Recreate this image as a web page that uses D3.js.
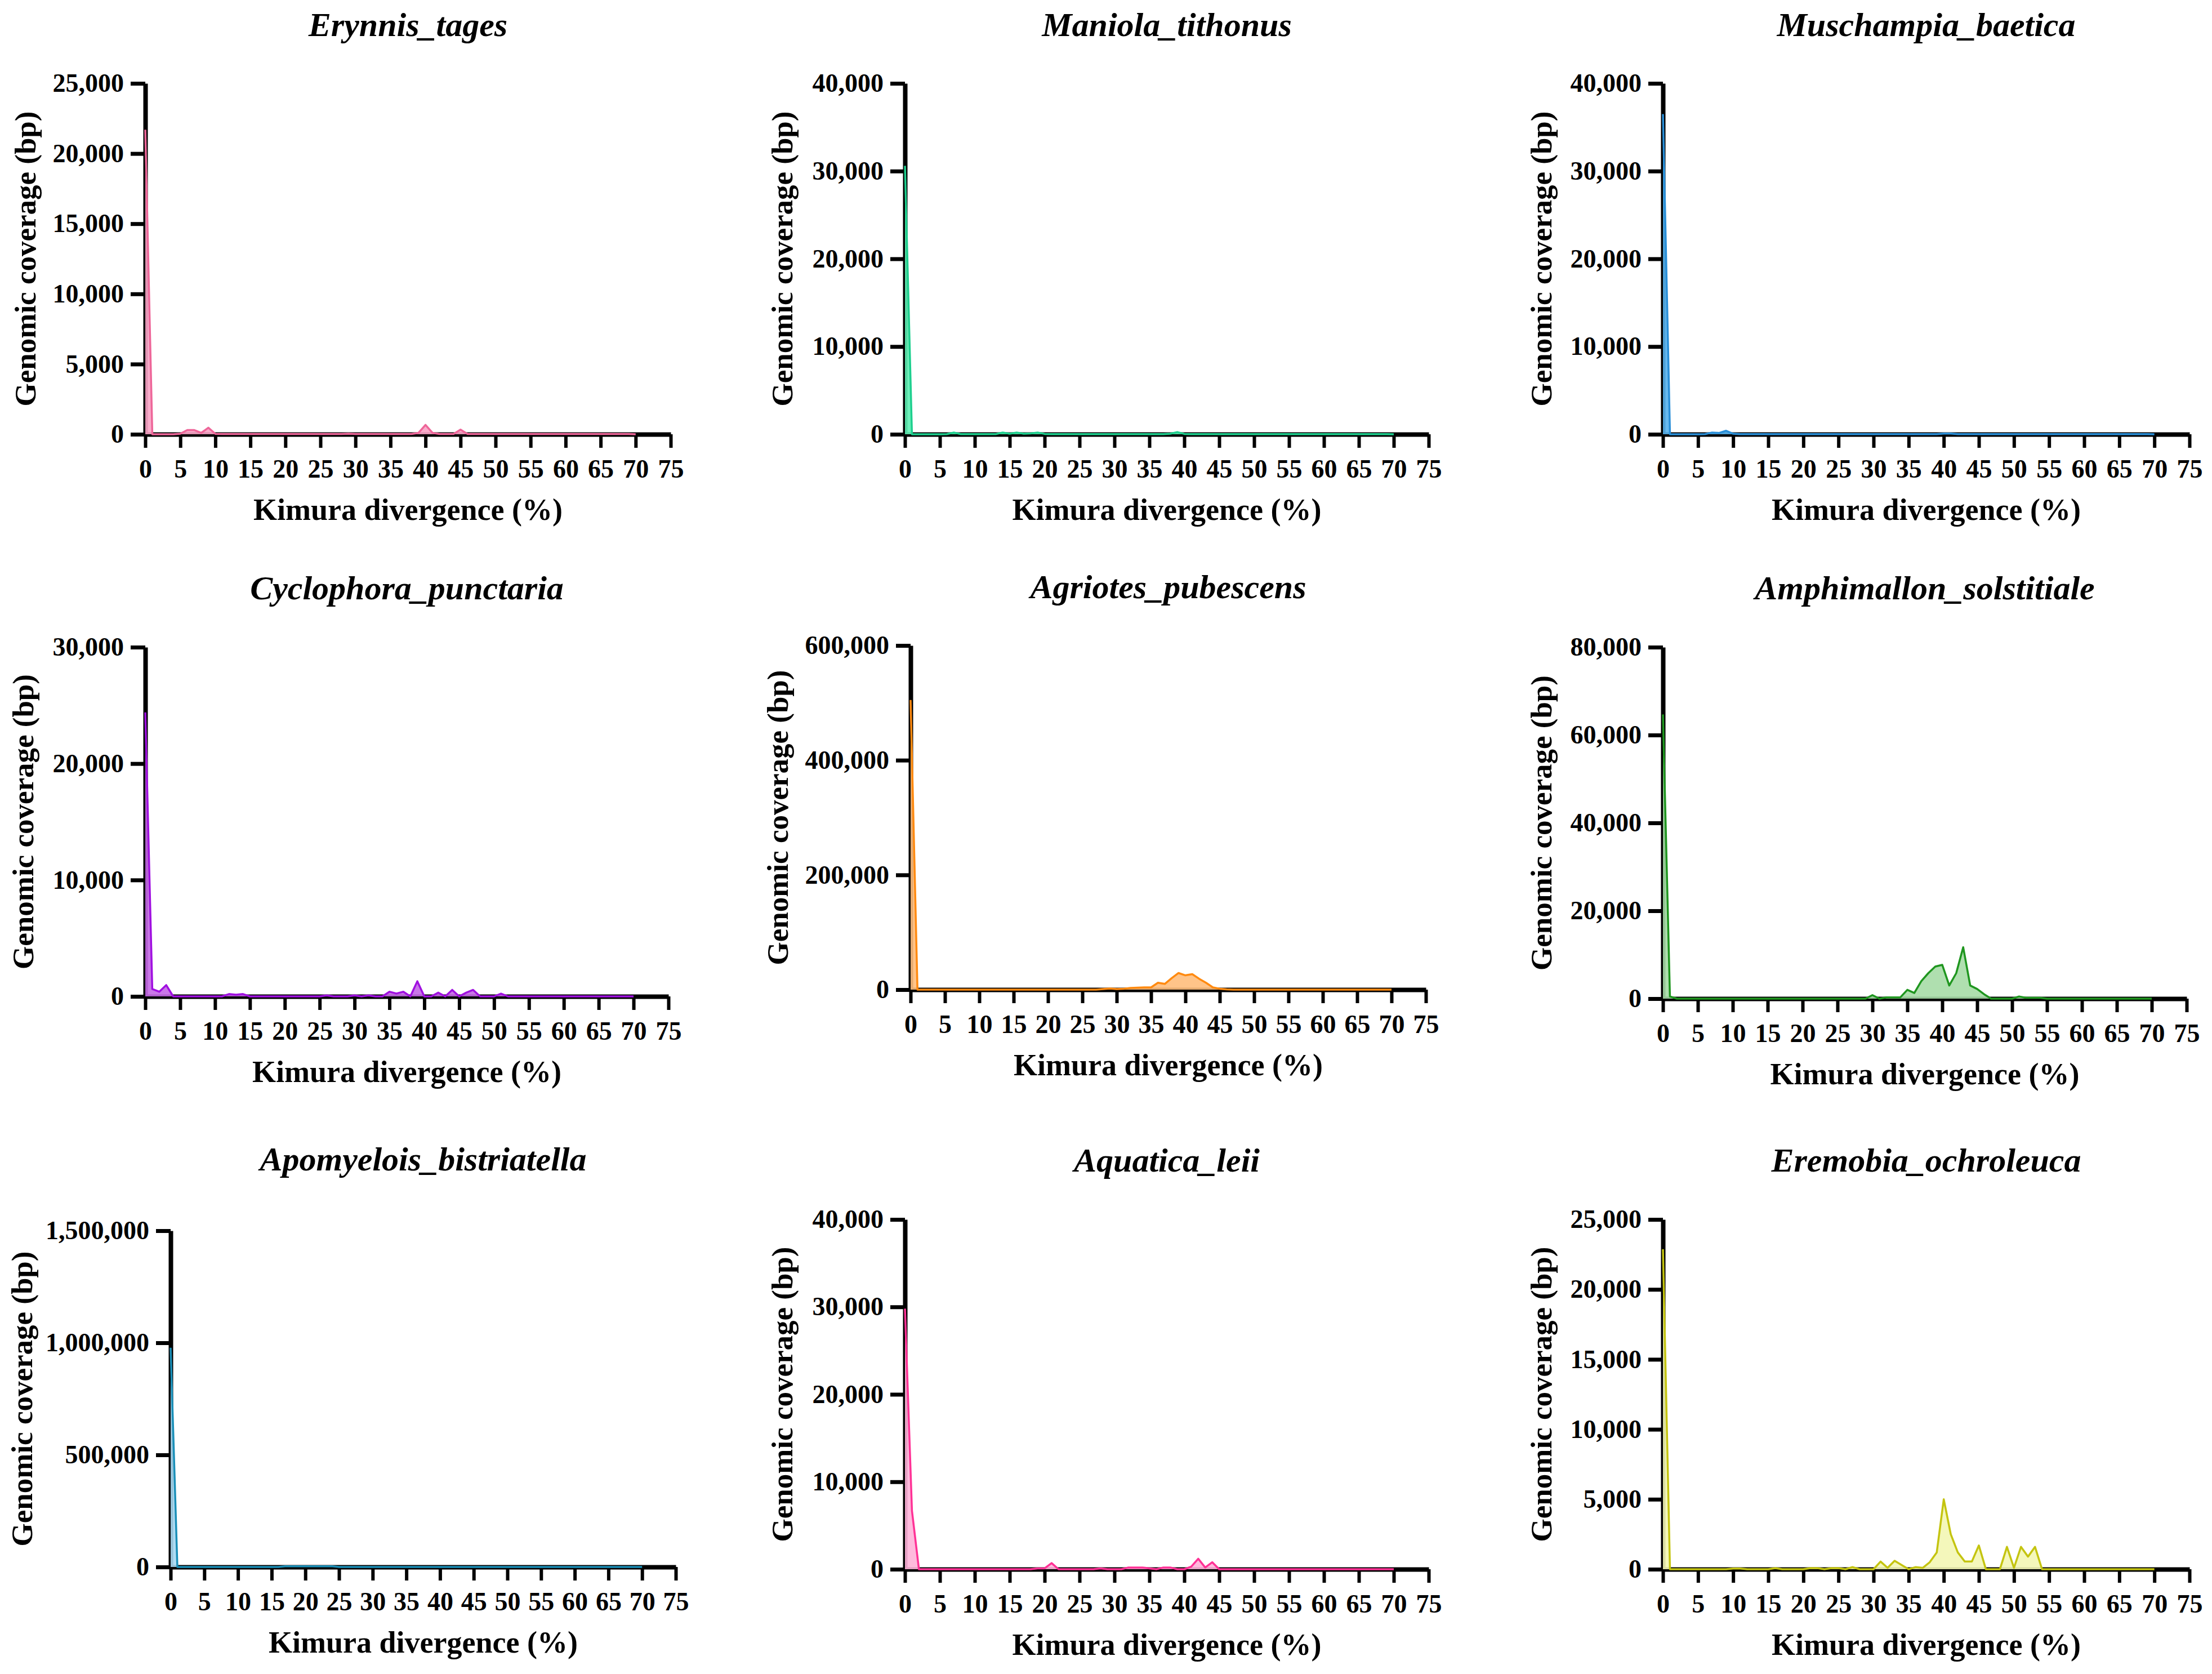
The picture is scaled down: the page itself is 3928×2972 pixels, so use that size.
<!DOCTYPE html>
<html>
<head>
<meta charset="utf-8">
<script src="https://cdn.jsdelivr.net/npm/d3@7"></script>
<style>
  body { margin: 0; background: #fff; }
  text { font-family: "Liberation Serif", "Times New Roman", serif; font-weight: bold; fill: #000; }
</style>
</head>
<body>
<div id="container"></div>
<script>
// kimura divergence bins (%)
let divergence = [0, 1, 2, 3, 4, 5, 6, 7, 8, 9, 10, 11, 12, 13, 14, 15, 16, 17, 18, 19,
  20, 21, 22, 23, 24, 25, 26, 27, 28, 29, 30, 31, 32, 33, 34, 35, 36, 37, 38, 39,
  40, 41, 42, 43, 44, 45, 46, 47, 48, 49, 50, 51, 52, 53, 54, 55, 56, 57, 58, 59,
  60, 61, 62, 63, 64, 65, 66, 67, 68, 69, 70];

let species = ["Erynnis_tages", "Maniola_tithonus", "Muschampia_baetica",
  "Cyclophora_punctaria", "Agriotes_pubescens", "Amphimallon_solstitiale",
  "Apomyelois_bistriatella", "Aquatica_leii", "Eremobia_ochroleuca"];

// genomic coverage (bp) per bin, one list per species
let erynnis = [21700, 0, 0, 0, 0, 40, 300, 300, 100, 470,
  30, 20, 20, 20, 20, 20, 20, 20, 20, 20,
  20, 20, 20, 20, 20, 20, 20, 20, 20, 40,
  20, 20, 20, 20, 20, 20, 20, 20, 20, 100,
  670, 100, 20, 20, 20, 330, 20, 20, 20, 20,
  20, 20, 20, 20, 20, 20, 20, 20, 20, 20,
  20, 20, 20, 20, 20, 20, 20, 20, 20, 20, 0];
let maniola = [30600, 0, 0, 0, 0, 0, 20, 200, 20, 20,
  20, 20, 20, 20, 200, 60, 200, 60, 100, 200,
  40, 20, 20, 20, 20, 20, 20, 20, 20, 20,
  20, 20, 20, 20, 20, 20, 20, 20, 60, 250,
  40, 20, 20, 20, 20, 20, 20, 20, 20, 20,
  20, 20, 20, 20, 20, 20, 20, 20, 20, 20,
  20, 20, 20, 20, 20, 20, 20, 20, 20, 20, 0];
let muschampia = [36500, 0, 0, 0, 0, 0, 20, 200, 150, 400,
  60, 20, 20, 20, 20, 20, 20, 20, 20, 20,
  20, 20, 20, 20, 20, 20, 20, 20, 20, 20,
  20, 20, 20, 20, 20, 20, 20, 20, 20, 20,
  80, 80, 20, 20, 20, 20, 20, 20, 20, 20,
  20, 20, 20, 20, 20, 20, 20, 20, 20, 20,
  20, 20, 20, 20, 20, 20, 20, 20, 20, 20, 0];
let cyclophora = [24400, 630, 400, 970, 0, 0, 0, 0, 0, 0,
  0, 0, 200, 150, 200, 0, 0, 0, 0, 0,
  0, 0, 0, 0, 0, 0, 80, 0, 0, 0,
  80, 0, 80, 0, 0, 400, 250, 400, 0, 1300,
  0, 0, 320, 0, 560, 0, 320, 560, 0, 0,
  0, 240, 0, 0, 0, 0, 0, 0, 0, 0,
  0, 0, 0, 0, 0, 0, 0, 0, 0, 0, 0];
let agriotes = [505000, 0, 0, 0, 0, 0, 0, 0, 0, 0,
  0, 0, 0, 0, 0, 0, 0, 0, 0, 0,
  0, 0, 0, 0, 0, 0, 0, 0, 1000, 2000,
  1000, 1500, 3000, 3500, 4000, 4000, 12000, 10000, 20000, 29000,
  25000, 27000, 19000, 12000, 4000, 1500, 500, 0, 0, 0,
  0, 0, 0, 0, 0, 0, 0, 0, 0, 0,
  0, 0, 0, 0, 0, 0, 0, 0, 0, 0, 0];
let amphimallon = [64700, 500, 0, 0, 0, 0, 0, 0, 0, 0,
  0, 0, 0, 0, 0, 0, 0, 0, 0, 0,
  0, 0, 0, 0, 0, 0, 0, 0, 0, 0,
  800, 0, 300, 300, 300, 2000, 1300, 4000, 5800, 7300,
  7700, 3000, 5800, 11700, 3000, 2200, 1000, 0, 0, 0,
  0, 500, 200, 200, 200, 0, 0, 0, 0, 0,
  0, 0, 0, 0, 0, 0, 0, 0, 0, 0, 0];
let apomyelois = [978000, 0, 0, 0, 0, 0, 0, 0, 0, 0,
  0, 0, 0, 0, 0, 0, 0, 3000, 3000, 3000,
  3000, 3000, 3000, 3000, 3000, 0, 0, 0, 0, 0,
  0, 0, 0, 0, 0, 0, 0, 0, 0, 0,
  0, 0, 0, 0, 0, 0, 0, 0, 0, 0,
  0, 0, 0, 0, 0, 0, 0, 0, 0, 0,
  0, 0, 0, 0, 0, 0, 0, 0, 0, 0, 0];
let aquatica = [29800, 6700, 0, 0, 0, 0, 0, 0, 0, 0,
  0, 0, 0, 0, 0, 0, 0, 0, 0, 100,
  100, 700, 0, 0, 0, 0, 0, 0, 100, 0,
  0, 0, 200, 200, 200, 100, 0, 200, 200, 0,
  0, 300, 1200, 200, 800, 0, 0, 0, 0, 0,
  0, 0, 0, 0, 0, 0, 0, 0, 0, 0,
  0, 0, 0, 0, 0, 0, 0, 0, 0, 0, 0];
let eremobia = [22870, 0, 0, 0, 0, 0, 0, 0, 0, 0,
  50, 50, 0, 0, 0, 0, 80, 0, 0, 0,
  0, 80, 80, 0, 80, 80, 0, 150, 0, 0,
  0, 550, 100, 600, 300, 0, 150, 100, 500, 1200,
  5000, 2500, 1200, 550, 550, 1700, 0, 0, 0, 1600,
  100, 1600, 900, 1600, 0, 0, 0, 0, 0, 0,
  0, 0, 0, 0, 0, 0, 0, 0, 0, 0, 0];

let coverage = [erynnis, maniola, muschampia, cyclophora, agriotes, amphimallon, apomyelois, aquatica, eremobia];

// axis tick labels
let xTicks = [0, 5, 10, 15, 20, 25, 30, 35, 40, 45, 50, 55, 60, 65, 70, 75];
let yTicks = [
  [0, 5000, 10000, 15000, 20000, 25000],
  [0, 10000, 20000, 30000, 40000],
  [0, 10000, 20000, 30000, 40000],
  [0, 10000, 20000, 30000],
  [0, 200000, 400000, 600000],
  [0, 20000, 40000, 60000, 80000],
  [0, 500000, 1000000, 1500000],
  [0, 10000, 20000, 30000, 40000],
  [0, 5000, 10000, 15000, 20000, 25000]
];

// colours
let lineColors = ["#ee6699", "#1ecf8e", "#2a8fd8", "#a010e0", "#ff8a10", "#1f961f", "#1a8fb8", "#ff3296", "#c4c410"];
let fillColors = ["#f9a3c5", "#5ef0b4", "#56b2ee", "#c468e6", "#ffbe7c", "#a6dca6", "#a6d8f2", "#ffb2d9", "#f3f6b4"];

// panel boxes on the page
let boxes = [
  {x0: 258, x1: 1191, top: 148, bottom: 771, titleY: 64, yLab: 214},
  {x0: 1607, x1: 2537, top: 148, bottom: 771, titleY: 64, yLab: 219},
  {x0: 2953, x1: 3888, top: 148, bottom: 771, titleY: 64, yLab: 217},
  {x0: 258, x1: 1187, top: 1149, bottom: 1769, titleY: 1064, yLab: 218},
  {x0: 1617, x1: 2532, top: 1146, bottom: 1757, titleY: 1062, yLab: 237},
  {x0: 2953, x1: 3883, top: 1149, bottom: 1773, titleY: 1064, yLab: 217},
  {x0: 303, x1: 1200, top: 2185, bottom: 2782, titleY: 2078, yLab: 265},
  {x0: 1607, x1: 2537, top: 2165, bottom: 2786, titleY: 2080, yLab: 219},
  {x0: 2953, x1: 3888, top: 2165, bottom: 2786, titleY: 2080, yLab: 217}
];

let w = 3928;
let h = 2972;

let viz = d3.select("#container")
  .append("svg")
    .attr("width", w)
    .attr("height", h)
;

viz.append("rect")
  .attr("width", w)
  .attr("height", h)
  .attr("fill", "#fff")
;

species.forEach(function(name, i){
  let b = boxes[i];
  let panel = viz.append("g").attr("class", "panel");

  let x = d3.scaleLinear().domain([0, 75]).range([b.x0, b.x1]);
  let y = d3.scaleLinear().domain([0, d3.max(yTicks[i])]).range([b.bottom, b.top]);

  let points = divergence.map((d, j) => ({k: d, v: coverage[i][j]}));

  //x axis
  let xAxis = panel.append("g")
    .attr("transform", "translate(0," + b.bottom + ")")
    .call(d3.axisBottom(x).tickValues(xTicks).tickSize(24).tickSizeOuter(0).tickPadding(20))
  ;
  xAxis.select(".domain").attr("stroke", "#000").attr("stroke-width", 8);
  xAxis.selectAll(".tick line").attr("stroke", "#000").attr("stroke-width", 6);
  xAxis.selectAll(".tick text").attr("font-size", 46);

  //y axis
  let yAxis = panel.append("g")
    .attr("transform", "translate(" + b.x0 + ",0)")
    .call(d3.axisLeft(y).tickValues(yTicks[i]).tickFormat(d3.format(",")).tickSize(26).tickSizeOuter(0).tickPadding(12))
  ;
  yAxis.select(".domain").attr("stroke", "#000").attr("stroke-width", 8);
  yAxis.selectAll(".tick line").attr("stroke", "#000").attr("stroke-width", 7);
  yAxis.selectAll(".tick text").attr("font-size", 46);

  //area and line
  let area = d3.area()
    .x(d => x(d.k))
    .y0(y(0))
    .y1(d => y(d.v))
  ;
  let line = d3.line()
    .x(d => x(d.k))
    .y(d => y(d.v))
  ;

  panel.append("path")
    .datum(points)
    .attr("d", area)
    .attr("fill", fillColors[i])
    .attr("fill-opacity", 0.9)
  ;
  panel.append("path")
    .datum(points)
    .attr("d", line)
    .attr("fill", "none")
    .attr("stroke", lineColors[i])
    .attr("stroke-width", 3.5)
    .attr("stroke-linejoin", "round")
  ;

  //titles
  let cx = (b.x0 + b.x1) / 2;
  panel.append("text")
    .text(name)
    .attr("x", cx)
    .attr("y", b.titleY)
    .attr("text-anchor", "middle")
    .attr("font-size", 60)
    .style("font-style", "italic")
  ;

  panel.append("text")
    .text("Kimura divergence (%)")
    .attr("x", cx)
    .attr("y", b.bottom + 152)
    .attr("text-anchor", "middle")
    .attr("font-size", 54)
  ;

  panel.append("text")
    .text("Genomic coverage (bp)")
    .attr("transform", "translate(" + (b.x0 - b.yLab) + "," + ((b.top + b.bottom) / 2) + ") rotate(-90)")
    .attr("text-anchor", "middle")
    .attr("dy", "0.35em")
    .attr("font-size", 53)
  ;
});
</script>
</body>
</html>
